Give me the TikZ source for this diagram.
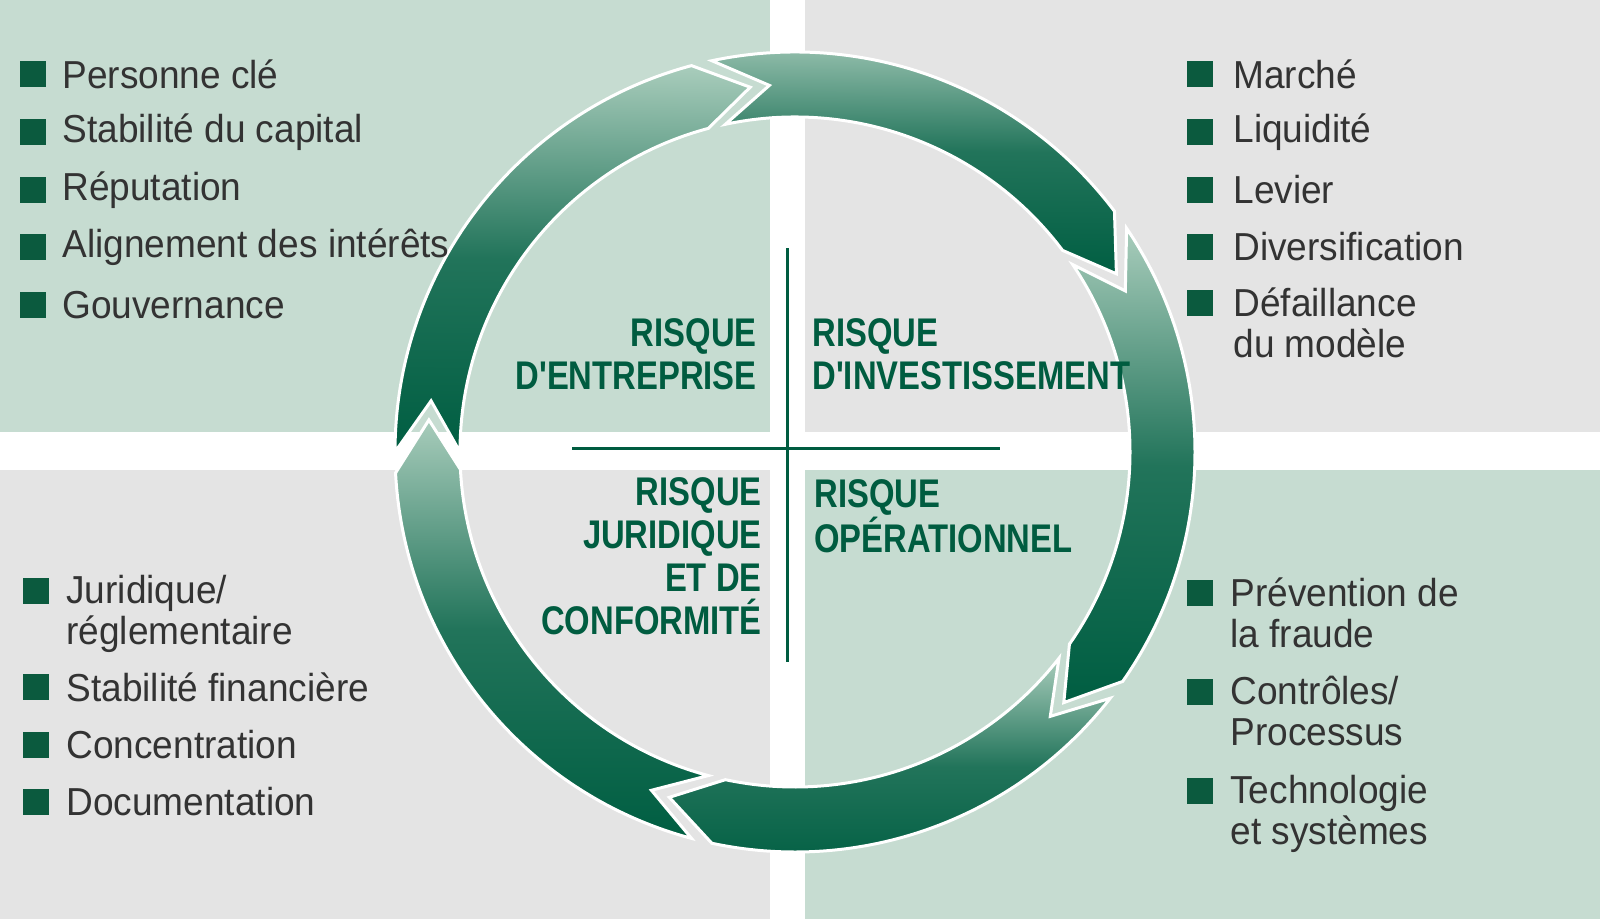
\documentclass[tikz,border=0pt]{standalone}
\usetikzlibrary{calc}
\usepackage{fontspec}
\setmainfont{Liberation Sans}
\newfontfamily\listfont[FakeStretch=0.95]{Liberation Sans}
\newfontfamily\headfont[FakeStretch=0.82]{Liberation Sans}
\definecolor{bggreen}{HTML}{C6DCD1}
\definecolor{bggray}{HTML}{E4E4E4}
\definecolor{dkgreen}{HTML}{005E42}
\definecolor{ltgreen}{HTML}{A8CCBB}
\definecolor{txtgreen}{HTML}{005C40}
\definecolor{sqgreen}{HTML}{0B5A3E}
\begin{document}
\begin{tikzpicture}[x=0.5pt,y=0.5pt,
  item/.style={anchor=west,font=\listfont\fontsize{19.5}{20.5}\selectfont,text=black!80,align=left,inner sep=0},
  sq/.style={fill=sqgreen,minimum size=13pt,inner sep=0},
  head/.style={font=\headfont\bfseries\fontsize{20}{21.5}\selectfont,text=txtgreen,inner sep=0},
  seg/.style={draw=white,line width=1.5pt}]
\useasboundingbox (0,0) rectangle (1600,919);
% quadrants
\fill[bggreen] (0,487) rectangle (770,919);
\fill[bggray] (805,487) rectangle (1600,919);
\fill[bggray] (0,0) rectangle (770,449);
\fill[bggreen] (805,0) rectangle (1600,449);
\coordinate (C) at (795,467);
% arrows
\foreach \s/\e/\ang in {180/97/138, 102/29/65, 34/-43/-5, -38/-110/-74, -105/-185/-145}{
  \pgfmathsetmacro{\eh}{\e+8}
  \pgfmathsetmacro{\sh}{\s-8}
  \pgfmathsetmacro{\mid}{(\s+\e)/2}
  \shade[seg, top color=ltgreen, bottom color=dkgreen, middle color=dkgreen!80!ltgreen, shading angle=\ang-(\mid)]
    ($(C)+(\s:400)$) arc[start angle=\s,end angle=\eh,radius=400]
    -- ($(C)+(\e:367.5)$) -- ($(C)+(\eh:335)$)
    arc[start angle=\eh,end angle=\s,radius=335]
    -- ($(C)+(\sh:367.5)$) -- cycle;
}
% cross
\draw[txtgreen,line width=1.5pt] (787,257) -- (787,671);
\draw[txtgreen,line width=1.5pt] (572,470) -- (1000,470);
% headings
\node[head,anchor=north east,align=right] (h1) at (757,919-318) {RISQUE\\D'ENTREPRISE};
\node[head,anchor=north west,align=left] (h2) at (812,919-318) {RISQUE\\D'INVESTISSEMENT};
\node[head,anchor=north east,align=right] (h3) at (762,919-477) {RISQUE\\JURIDIQUE\\ET DE\\CONFORMITÉ};
\node[head,anchor=north west,align=left] (h4) at (814,919-479) {RISQUE\\OPÉRATIONNEL};
% lists
\foreach \y/\t [count=\i] in {74/Personne clé,132/Stabilité du capital,190/Réputation,247/Alignement des intérêts,305/Gouvernance}{
  \node[sq] (a\i) at (33,919-\y) {};
  \node[item] (at\i) at (62,919-\y) {\t};
}
\foreach \y/\t [count=\i] in {74/Marché,132/Liquidité,190/Levier,247/Diversification}{
  \node[sq] (b\i) at (1200,919-\y) {};
  \node[item] (bt\i) at (1233,919-\y) {\t};
}
\node[sq] (b5) at (1200,919-303) {};
\node[item,anchor=north west] (bt5) at (1233,919-287) {Défaillance\\du modèle};
\node[sq] (c1) at (36,919-591) {};
\node[item,anchor=north west] (ct1) at (66,919-575) {Juridique/\\réglementaire};
\foreach \y/\t [count=\i from 2] in {687/Stabilité financière,745/Concentration,802/Documentation}{
  \node[sq] (c\i) at (36,919-\y) {};
  \node[item] (ct\i) at (66,919-\y) {\t};
}
\foreach \y/\a/\b [count=\i] in {593/Prévention de/la fraude,692/{Contrôles/}/Processus,791/Technologie/et systèmes}{
  \node[sq] (d\i) at (1200,919-\y) {};
  \node[item,anchor=north west] (dt\i) at (1230,919-\y+16) {\a\\\b};
}
\end{tikzpicture}
\end{document}
